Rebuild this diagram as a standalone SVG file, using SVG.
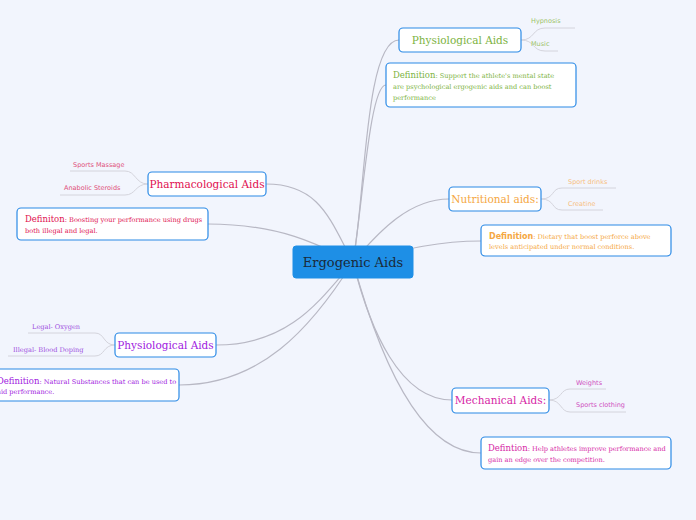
<svg xmlns="http://www.w3.org/2000/svg" width="696" height="520" viewBox="0 0 696 520">
<style>
.n{fill:#fff;stroke:#2b8ae6;stroke-width:1.2}
.t{font-family:"DejaVu Serif","Liberation Serif",serif}
.h{font-size:10.5px}
.s{font-size:6.6px}
.l{font-size:6.5px;font-family:"DejaVu Sans","Liberation Sans",sans-serif}
.c{fill:none;stroke:#b8b8c4;stroke-width:1.2}
.lf{fill:none;stroke:#d4d4dc;stroke-width:1}
</style>
<rect width="696" height="520" fill="#f2f5fd"/>
<g id="connectors">
<path class="c" d="M353,262 C365,200 365,40 399,40"/>
<path class="c" d="M353,262 C363,200 370,85 386,85"/>
<path class="c" d="M353,262 C330,220 320,184 266,184"/>
<path class="c" d="M353,262 C320,245 280,224 208,224"/>
<path class="c" d="M353,262 C380,230 410,199 449,199"/>
<path class="c" d="M353,262 C410,248 440,241 481,241"/>
<path class="c" d="M353,262 C320,300 290,345 216,345"/>
<path class="c" d="M353,262 C310,330 260,385 179,385"/>
<path class="c" d="M353,262 C370,330 400,400 452,400"/>
<path class="c" d="M353,262 C380,360 420,453 481,453"/>
<path class="lf" d="M521,40 C535,40 532,28 545,28 H575 M521,40 C535,40 532,51 545,51 H558"/>
<path class="lf" d="M148,184 C135,184 136,171 125,171 H70 M148,184 C135,184 136,195 125,195 H60"/>
<path class="lf" d="M541,199 C555,199 551,188 562,188 H616 M541,199 C555,199 551,210 562,210 H603"/>
<path class="lf" d="M115,345 C103,345 105,333 95,333 H28 M115,345 C103,345 105,356 95,356 H8"/>
<path class="lf" d="M549,400 C562,400 560,389 570,389 H606 M549,400 C562,400 560,412 570,412 H626"/>
</g>
<g id="center"><rect x="293" y="246" width="120" height="32" rx="3" fill="#1e8fe6" stroke="#1e8fe6"/><text class="t" x="353" y="266.5" font-size="13" text-anchor="middle" fill="#1a2a3a">Ergogenic Aids</text></g>
<g id="phys1" fill="#7cb342"><rect class="n" x="399" y="28" width="122" height="24" rx="4"/><text class="t h" x="460" y="44" text-anchor="middle">Physiological Aids</text>
<text class="l" x="531" y="23" fill="#9cc46a">Hypnosis</text><text class="l" x="531" y="46" fill="#9cc46a">Music</text></g>
<g id="def1" fill="#7cb342"><rect class="n" x="386" y="63" width="190" height="44" rx="4"/><text class="t s" x="393" y="78"><tspan font-size="8.5">Definition</tspan>: Support the athlete's mental state</text><text class="t s" x="393" y="89">are psychological ergogenic aids and can boost</text><text class="t s" x="393" y="100">performance</text></g>
<g id="pharm" fill="#e0104f"><rect class="n" x="148" y="172" width="118" height="24" rx="4"/><text class="t h" x="207" y="188" text-anchor="middle">Pharmacological Aids</text>
<text class="l" x="73" y="167" fill="#e0507a">Sports Massage</text><text class="l" x="64" y="190" fill="#e0507a">Anabolic Steroids</text></g>
<g id="def2" fill="#e0104f"><rect class="n" x="17" y="208" width="191" height="32" rx="4"/><text class="t s" x="25" y="222"><tspan font-size="8.5">Definiton</tspan>: Boosting your performance using drugs</text><text class="t s" x="25" y="233">both illegal and legal.</text></g>
<g id="nutr" fill="#f5a742"><rect class="n" x="449" y="187" width="92" height="24" rx="4"/><text class="t h" x="495" y="203" text-anchor="middle">Nutritional aids:</text>
<text class="l" x="568" y="184" fill="#f7be80">Sport drinks</text><text class="l" x="568" y="206" fill="#f7be80">Creatine</text></g>
<g id="def3" fill="#f5a742"><rect class="n" x="481" y="225" width="190" height="31" rx="4"/><text class="t s" x="489" y="239"><tspan font-size="8" font-family="DejaVu Sans,sans-serif" font-weight="bold">Definition</tspan>: Dietary that boost perforce above</text><text class="t s" x="489" y="249">levels anticipated under normal conditions.</text></g>
<g id="phys2" fill="#a020e0"><rect class="n" x="115" y="333" width="101" height="24" rx="4"/><text class="t h" x="165.5" y="349" text-anchor="middle">Physiological Aids</text>
<text class="t s" x="32" y="329" fill="#a050e0">Legal- Oxygen</text><text class="t s" x="13" y="352" fill="#a050e0">Illegal- Blood Doping</text></g>
<g id="def4" fill="#a020e0"><rect class="n" x="-10" y="369" width="189" height="32" rx="4"/><text class="t s" x="-3" y="384"><tspan font-size="8.5">Definition</tspan>: Natural Substances that can be used to</text><text class="t s" x="-3" y="394">aid performance.</text></g>
<g id="mech" fill="#d61fa6"><rect class="n" x="452" y="388" width="97" height="25" rx="4"/><text class="t h" x="500.5" y="404" text-anchor="middle">Mechanical Aids:</text>
<text class="l" x="576" y="385" fill="#d050c0">Weights</text><text class="l" x="576" y="407" fill="#d050c0">Sports clothing</text></g>
<g id="def5" fill="#d61fa6"><rect class="n" x="481" y="437" width="190" height="32" rx="4"/><text class="t s" x="488" y="451"><tspan font-size="8.5">Defintion</tspan>: Help athletes improve performance and</text><text class="t s" x="488" y="462">gain an edge over the competition.</text></g>
</svg>
